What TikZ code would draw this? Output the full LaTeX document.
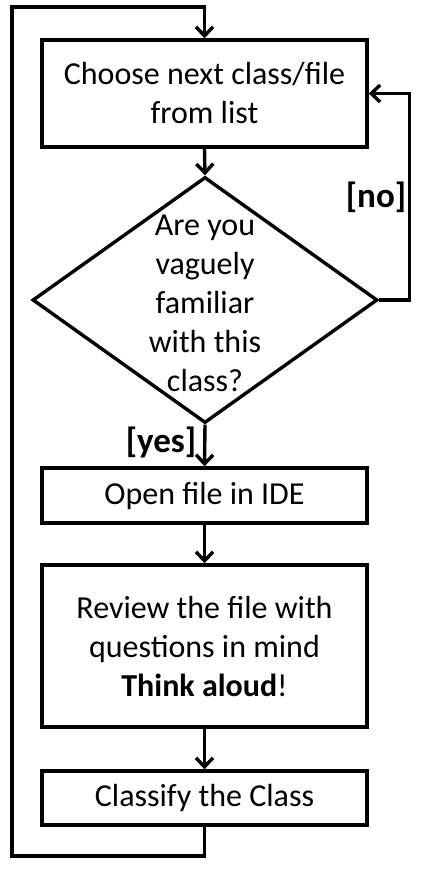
\documentclass[tikz,border=0pt]{standalone}
\usepackage{fontspec}
\setmainfont{Carlito}
\usetikzlibrary{shapes.geometric,arrows.meta}
\begin{document}
\begin{tikzpicture}[x=1pt,y=-1pt,
  lw/.style={line width=3.4pt},
  stepbox/.style={draw,lw,rectangle,minimum width=325pt,inner sep=0pt,align=center,
    font=\fontsize{32}{39}\selectfont},
  txt/.style={align=center,inner sep=0pt,font=\fontsize{32}{39}\selectfont},
  lbl/.style={inner sep=0pt,font=\fontsize{35}{40}\selectfont\bfseries},
  arr/.style={lw,-{Straight Barb[length=9pt,width=17pt,line width=3.4pt]}}]
\useasboundingbox (0,0) rectangle (427,871);
\node[stepbox,minimum height=107pt] (c1) at (204.5,93.5) {Choose next class/file\\from list};
\node[draw,lw,diamond,minimum width=345pt,minimum height=246pt,inner sep=0pt] (q) at (205,300) {};
\node[txt] (qt) at (205,303) {Are you\\vaguely\\familiar\\with this\\class?};
\node[stepbox,minimum height=55pt] (c2) at (204.5,495.5) {Open file in IDE};
\node[stepbox,minimum height=162pt] (c3) at (204.5,646) {Review the file with\\questions in mind\\\textbf{Think aloud}!};
\node[stepbox,minimum height=54pt] (c4) at (204.5,798) {Classify the Class};
\node[lbl] (no) at (376,197) {[no]};
\node[lbl] (yes) at (161,442) {[yes]};
\coordinate (nr) at (409.5,300);
\coordinate (bl) at (12,856);
\coordinate (tl) at (12,7);
\draw[arr] (c1.south) -- (q.north);
\draw[arr] (q.south) -- (c2.north);
\draw[arr] (c2.south) -- (c3.north);
\draw[arr] (c3.south) -- (c4.north);
\draw[arr] (q.east) -- (nr) |- (c1.east);
\draw[arr] (c4.south) |- (bl) -- (tl) -| (c1.north);
\end{tikzpicture}
\end{document}
